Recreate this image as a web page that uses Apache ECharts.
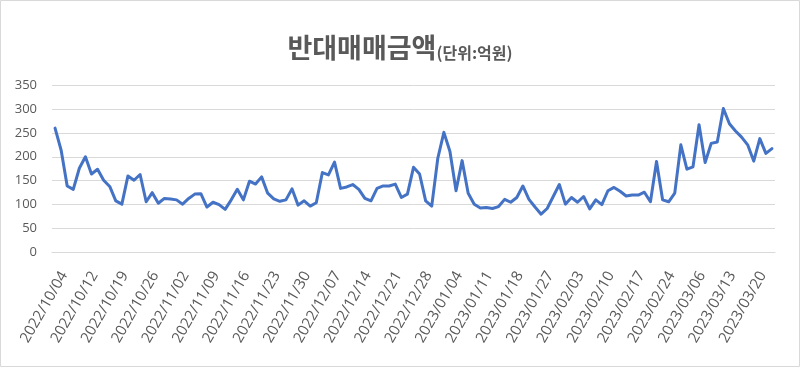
<!DOCTYPE html>
<html>
<head>
<meta charset="utf-8">
<script src="https://cdn.jsdelivr.net/npm/echarts@6/dist/echarts.min.js"></script>
<style>
html,body{margin:0;padding:0;background:#fff;}
#chart{width:800px;height:367px;}
</style>
</head>
<body>
<div id="chart"></div>
<script>
const dates = [
'2022/10/04','2022/10/05','2022/10/06','2022/10/07','2022/10/11','2022/10/12','2022/10/13','2022/10/14','2022/10/17','2022/10/18',
'2022/10/19','2022/10/20','2022/10/21','2022/10/24','2022/10/25','2022/10/26','2022/10/27','2022/10/28','2022/10/31','2022/11/01',
'2022/11/02','2022/11/03','2022/11/04','2022/11/07','2022/11/08','2022/11/09','2022/11/10','2022/11/11','2022/11/14','2022/11/15',
'2022/11/16','2022/11/17','2022/11/18','2022/11/21','2022/11/22','2022/11/23','2022/11/24','2022/11/25','2022/11/28','2022/11/29',
'2022/11/30','2022/12/01','2022/12/02','2022/12/05','2022/12/06','2022/12/07','2022/12/08','2022/12/09','2022/12/12','2022/12/13',
'2022/12/14','2022/12/15','2022/12/16','2022/12/19','2022/12/20','2022/12/21','2022/12/22','2022/12/23','2022/12/26','2022/12/27',
'2022/12/28','2022/12/29','2022/12/30','2023/01/02','2023/01/03','2023/01/04','2023/01/05','2023/01/06','2023/01/09','2023/01/10',
'2023/01/11','2023/01/12','2023/01/13','2023/01/16','2023/01/17','2023/01/18','2023/01/19','2023/01/20','2023/01/25','2023/01/26',
'2023/01/27','2023/01/30','2023/01/31','2023/02/01','2023/02/02','2023/02/03','2023/02/06','2023/02/07','2023/02/08','2023/02/09',
'2023/02/10','2023/02/13','2023/02/14','2023/02/15','2023/02/16','2023/02/17','2023/02/20','2023/02/21','2023/02/22','2023/02/23',
'2023/02/24','2023/02/27','2023/02/28','2023/03/02','2023/03/03','2023/03/06','2023/03/07','2023/03/08','2023/03/09','2023/03/10',
'2023/03/13','2023/03/14','2023/03/15','2023/03/16','2023/03/17','2023/03/20','2023/03/21','2023/03/22','2023/03/23'
];
const amounts = [
260,214,139,132,176,200,164,174,151,138,
108,101,160,151,163,106,125,103,113,112,
110,101,113,122,123,95,105,100,90,110,
132,110,149,143,158,124,112,107,110,133,
99,108,97,104,167,162,189,134,137,142,
132,113,108,134,139,139,143,115,122,178,
164,108,97,197,251,211,129,192,124,101,
93,94,92,96,111,105,115,139,111,95,
80,92,117,142,101,115,105,117,91,110,
100,129,136,128,118,120,120,126,106,190,
110,106,124,225,174,179,267,188,228,231,
301,269,254,241,225,191,238,207,217
];
const titleMain = '반대매매금액';
const titleUnit = '(단위:억원)';
const yTicks = [0, 50, 100, 150, 200, 250, 300, 350];

const chart = echarts.init(document.getElementById('chart'), null, {renderer: 'canvas'});
chart.setOption({
  animation: false,
  backgroundColor: '#ffffff',
  title: {
    text: '{a|' + titleMain + '}{b|' + titleUnit + '}',
    left: 'center',
    top: 20,
    textStyle: {
      rich: {
        a: {fontFamily: 'Noto Sans CJK KR', fontWeight: 'bold', fontSize: 27, color: '#595959', verticalAlign: 'bottom', lineHeight: 36},
        b: {fontFamily: 'Noto Sans CJK KR', fontSize: 16, color: '#595959', verticalAlign: 'bottom', lineHeight: 31}
      }
    }
  },
  graphic: [{
    type: 'rect', silent: true,
    shape: {x: 0.5, y: 0.5, width: 799, height: 366},
    style: {fill: 'none', stroke: '#d9d9d9', lineWidth: 1}
  }],
  grid: {left: 52, right: 25, top: 85, bottom: 114.5, containLabel: false},
  xAxis: {
    type: 'category',
    data: dates,
    boundaryGap: true,
    axisLine: {show: true, lineStyle: {color: '#d9d9d9', width: 1}},
    axisTick: {show: false},
    axisLabel: {
      interval: 4,
      rotate: 60,
      align: 'right',
      verticalAlign: 'top',
      padding: [3, 0, 0, 0],
      margin: 15,
      color: '#595959',
      fontFamily: 'Open Sans',
      fontSize: 15
    },
    splitLine: {show: false}
  },
  yAxis: {
    type: 'value',
    min: yTicks[0],
    max: yTicks[yTicks.length - 1],
    interval: 50,
    axisLine: {show: false},
    axisTick: {show: false},
    axisLabel: {color: '#595959', fontFamily: 'Open Sans', fontSize: 13, margin: 15},
    splitLine: {lineStyle: {color: '#d9d9d9', width: 1}}
  },
  series: [{
    type: 'line',
    data: amounts,
    showSymbol: false,
    symbol: 'none',
    smooth: false,
    lineStyle: {color: '#4472c4', width: 3, join: 'round', cap: 'round'},
    itemStyle: {color: '#4472c4'}
  }]
});
</script>
</body>
</html>
